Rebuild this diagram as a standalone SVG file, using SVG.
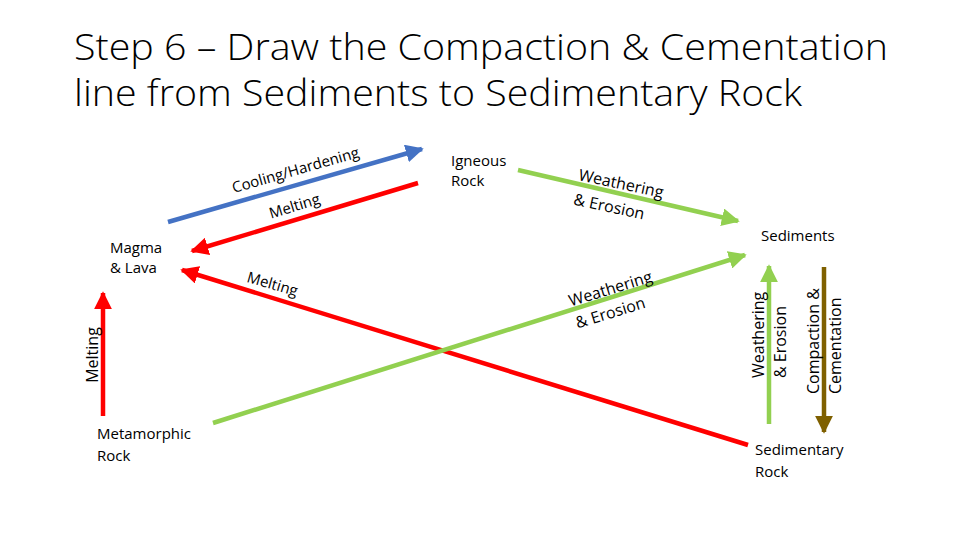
<svg xmlns="http://www.w3.org/2000/svg" width="960" height="540" viewBox="0 0 960 540">
<style>
.title{font-family:"Open Sans","Liberation Sans",Arial,sans-serif;font-weight:300;font-size:36px;fill:#000;}
.lbl{font-family:"Open Sans","Liberation Sans",sans-serif;font-size:15px;fill:#000;}
.big{font-size:16px;}
.ln{fill:none;stroke-width:4.5;}
.red{stroke:#FF0000;}
.blue{stroke:#4472C4;}
.green{stroke:#92D050;}
.brown{stroke:#7F6000;}
</style>
<defs>
<marker id="ar" viewBox="0 0 10 10" refX="9" refY="5" markerWidth="4" markerHeight="4" orient="auto"><path d="M0,0L10,5L0,10z" fill="#FF0000"/></marker>
<marker id="ab" viewBox="0 0 10 10" refX="9" refY="5" markerWidth="4" markerHeight="4" orient="auto"><path d="M0,0L10,5L0,10z" fill="#4472C4"/></marker>
<marker id="ag" viewBox="0 0 10 10" refX="9" refY="5" markerWidth="4" markerHeight="4" orient="auto"><path d="M0,0L10,5L0,10z" fill="#92D050"/></marker>
<marker id="an" viewBox="0 0 10 10" refX="9" refY="5" markerWidth="4" markerHeight="4" orient="auto"><path d="M0,0L10,5L0,10z" fill="#7F6000"/></marker>
</defs>
<rect width="960" height="540" fill="#fff"/>
<g id="title">
<text class="title" x="74" y="60" textLength="814" lengthAdjust="spacingAndGlyphs">Step 6 – Draw the Compaction &amp; Cementation</text>
<text class="title" x="74" y="106" textLength="728" lengthAdjust="spacingAndGlyphs">line from Sediments to Sedimentary Rock</text>
</g>
<g id="connectors">
<line class="ln blue" x1="168" y1="222" x2="422" y2="149" marker-end="url(#ab)"/>
<line class="ln red" x1="418" y1="183" x2="192" y2="251" marker-end="url(#ar)"/>
<line class="ln red" x1="748" y1="445" x2="182" y2="270" marker-end="url(#ar)"/>
<line class="ln green" x1="213" y1="423" x2="745" y2="255" marker-end="url(#ag)"/>
<line class="ln green" x1="518" y1="170" x2="738" y2="221" marker-end="url(#ag)"/>
<line class="ln red" x1="103" y1="416" x2="103" y2="293" marker-end="url(#ar)"/>
<line class="ln green" x1="769" y1="424" x2="769" y2="266" marker-end="url(#ag)"/>
<line class="ln brown" x1="824" y1="267" x2="824" y2="432" marker-end="url(#an)"/>
<text class="lbl" text-anchor="middle" transform="translate(297,175) rotate(-16)">Cooling/Hardening</text>
<text class="lbl" text-anchor="middle" transform="translate(296,211) rotate(-17)">Melting</text>
<text class="lbl" text-anchor="middle" transform="translate(271,289) rotate(16)">Melting</text>
<text class="lbl big" text-anchor="middle" transform="translate(620,189) rotate(12)">Weathering</text>
<text class="lbl big" text-anchor="middle" transform="translate(608,212) rotate(12)">&amp; Erosion</text>
<text class="lbl big" text-anchor="middle" transform="translate(612,294) rotate(-17)">Weathering</text>
<text class="lbl big" text-anchor="middle" transform="translate(612,318) rotate(-17)">&amp; Erosion</text>
<text class="lbl big" text-anchor="middle" transform="translate(98,355) rotate(-90)">Melting</text>
<text class="lbl big" transform="translate(764,378) rotate(-90)">Weathering</text>
<text class="lbl big" transform="translate(786,378) rotate(-90)">&amp; Erosion</text>
<text class="lbl big" transform="translate(819,394) rotate(-90)">Compaction &amp;</text>
<text class="lbl big" transform="translate(841,394) rotate(-90)">Cementation</text>
</g>
<g id="magma"><text class="lbl" x="110" y="253">Magma</text><text class="lbl" x="110" y="273">&amp; Lava</text></g>
<g id="igneous"><text class="lbl" x="451" y="166">Igneous</text><text class="lbl" x="451" y="186">Rock</text></g>
<g id="sediments"><text class="lbl" x="761" y="241">Sediments</text></g>
<g id="sedimentary"><text class="lbl" x="755" y="455">Sedimentary</text><text class="lbl" x="755" y="477">Rock</text></g>
<g id="metamorphic"><text class="lbl" x="97" y="439">Metamorphic</text><text class="lbl" x="97" y="461">Rock</text></g>
</svg>
